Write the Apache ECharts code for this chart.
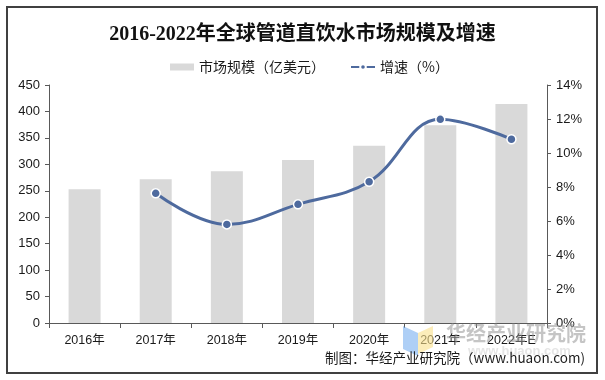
<!DOCTYPE html>
<html>
<head>
<meta charset="utf-8">
<script src="https://cdn.jsdelivr.net/npm/echarts@6/dist/echarts.min.js"></script>
<style>html,body{margin:0;padding:0;background:#fff}#c{width:605px;height:380px}</style>
</head>
<body>
<div id="c"></div>
<script>
const categories = ['2016年','2017年','2018年','2019年','2020年','2021年','2022年E'];
const marketSize = [253, 272, 287, 308, 335, 374, 414];
const growthRate = [null, 7.63, 5.80, 6.98, 8.31, 11.98, 10.81];
const leftTicks = {min: 0, max: 450, interval: 50};
const rightTicks = {min: 0, max: 14, interval: 2};
const titleText = '2016-2022年全球管道直饮水市场规模及增速';
const seriesNames = ['市场规模（亿美元）', '增速（%）'];
const sourceText = '制图：华经产业研究院（www.huaon.com)';

const chart = echarts.init(document.getElementById('c'), null, {renderer: 'canvas'});
const txt = '#1a1a1a';
const axisCol = '#595959';
chart.setOption({
  animation: false,
  backgroundColor: '#fff',
  title: {
    text: titleText, left: 'center', top: 20,
    textStyle: {fontFamily: '"Liberation Serif","Noto Sans CJK SC"', fontSize: 20, fontWeight: 'bold', color: '#111'}
  },
  legend: {
    left: 165, top: 55, itemGap: 25, itemWidth: 24, itemHeight: 7,
    textStyle: {fontFamily: '"Noto Sans CJK SC"', fontSize: 14, color: txt},
    data: [{name: seriesNames[0], icon: 'rect'}, {name: seriesNames[1]}]
  },
  grid: {left: 49, right: 58, top: 85, bottom: 57},
  xAxis: {
    type: 'category', data: categories, boundaryGap: true,
    axisLine: {lineStyle: {color: axisCol, width: 1}},
    axisTick: {show: true, length: 5, lineStyle: {color: axisCol}},
    axisLabel: {margin: 11, fontFamily: '"Liberation Sans","Noto Sans CJK SC"', fontSize: 12.5, color: txt}
  },
  yAxis: [{
    type: 'value', min: leftTicks.min, max: leftTicks.max, interval: leftTicks.interval,
    splitLine: {show: false},
    axisLine: {show: true, lineStyle: {color: axisCol}},
    axisTick: {show: true, length: 4, lineStyle: {color: axisCol}},
    axisLabel: {margin: 9, fontFamily: '"Liberation Sans"', fontSize: 13, color: txt}
  }, {
    type: 'value', position: 'right', min: rightTicks.min, max: rightTicks.max, interval: rightTicks.interval,
    splitLine: {show: false},
    axisLine: {show: true, lineStyle: {color: axisCol}},
    axisTick: {show: true, length: 4, lineStyle: {color: axisCol}},
    axisLabel: {margin: 9, fontFamily: '"Liberation Sans"', fontSize: 13, color: txt, formatter: '{value}%'}
  }],
  series: [{
    name: seriesNames[0], type: 'bar', data: marketSize, barWidth: 32,
    itemStyle: {color: '#d9d9d9'}
  }, {
    name: seriesNames[1], type: 'line', yAxisIndex: 1, data: growthRate, smooth: 0.4,
    symbol: 'circle', symbolSize: 9,
    lineStyle: {color: '#4e6a9e', width: 3},
    itemStyle: {color: '#4e6a9e', borderColor: '#fff', borderWidth: 1.5}
  }],
  graphic: [
    {type: 'rect', z: 100, silent: true, shape: {x: 7, y: 7, width: 590, height: 366},
     style: {fill: 'none', stroke: '#404040', lineWidth: 2}},
    {type: 'polygon', z: 50, shape: {points: [[403, 326], [418, 333], [418, 356], [403, 349]]}, style: {fill: 'rgba(120,175,240,0.6)'}},
    {type: 'polygon', z: 50, shape: {points: [[418, 333], [433, 326], [433, 347], [418, 354]]}, style: {fill: 'rgba(250,225,140,0.6)'}},
    {type: 'text', z: 50, left: 446, top: 323,
     style: {text: '华经产业研究院', font: 'bold 20px "Noto Sans CJK SC"', fill: 'rgba(150,150,150,0.55)'}},
    {type: 'text', z: 50, left: 468, top: 345,
     style: {text: 'www.huaon.com', font: 'bold 13px "Liberation Sans"', fill: 'rgba(180,180,180,0.35)'}},
    {type: 'text', z: 60, right: 20, top: 351,
     style: {text: sourceText, font: '13.5px "Noto Sans CJK SC"', fill: '#1a1a1a'}}
  ]
});
</script>
</body>
</html>
